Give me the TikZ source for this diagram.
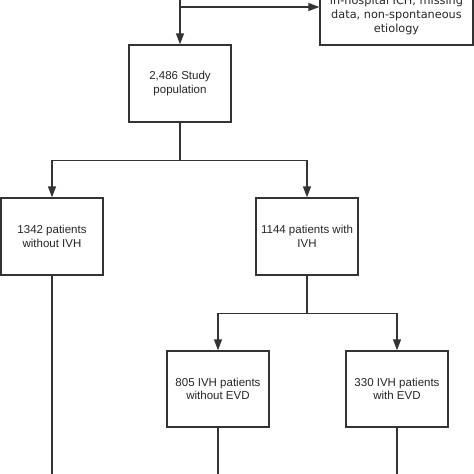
\documentclass[tikz,border=0pt]{standalone}
\usepackage{fontspec}
\setmainfont{Liberation Sans}
\newfontfamily\dvfont{DejaVu Sans}
\usetikzlibrary{arrows.meta}

\begin{document}
\begin{tikzpicture}[x=1pt, y=-1pt, >={Triangle[length=11pt,width=8pt]},
  bx/.style={rectangle, draw=black!80, line width=1.4pt, fill=white, minimum width=102pt, minimum height=77pt, align=center, text=black!85, font=\fontsize{11.5}{13.5}\selectfont},
  ln/.style={draw=black!80, line width=1.4pt}]
\useasboundingbox (0,0) rectangle (474,474);
\clip (0,0) rectangle (474,474);
% boxes
\node[bx, minimum width=153pt, minimum height=60pt, font=\dvfont\fontsize{11.3}{14}\selectfont] (excl) at (396.5,15) {in-hospital ICH, missing\\data, non-spontaneous\\etiology};
\node[bx] (study) at (180,83.5) {2,486 Study\\population};
\node[bx] (nivh) at (52,236.5) {1342 patients\\without IVH};
\node[bx] (ivh) at (307,236.5) {1144 patients with\\IVH};
\node[bx, minimum height=76pt] (noevd) at (218,389) {805 IVH patients\\without EVD};
\node[bx, minimum height=76pt] (evd) at (397,389) {330 IVH patients\\with EVD};
% free ends
\coordinate (top) at (180,-20);
\coordinate (fork) at (180,7);
\coordinate (e1) at (52,490);
\coordinate (e2) at (218,490);
\coordinate (e3) at (397,490);
% connectors
\draw[ln, ->] (top) -- (study);
\draw[ln, ->] (fork) -- (excl.west |- fork);
\draw[ln, ->] (study.south) -- ++(0,38) -| (nivh.north);
\draw[ln, ->] (study.south) -- ++(0,38) -| (ivh.north);
\draw[ln, ->] (ivh.south) -- ++(0,38) -| (noevd.north);
\draw[ln, ->] (ivh.south) -- ++(0,38) -| (evd.north);
\draw[ln] (nivh) -- (e1);
\draw[ln] (noevd) -- (e2);
\draw[ln] (evd) -- (e3);
\end{tikzpicture}
\end{document}
